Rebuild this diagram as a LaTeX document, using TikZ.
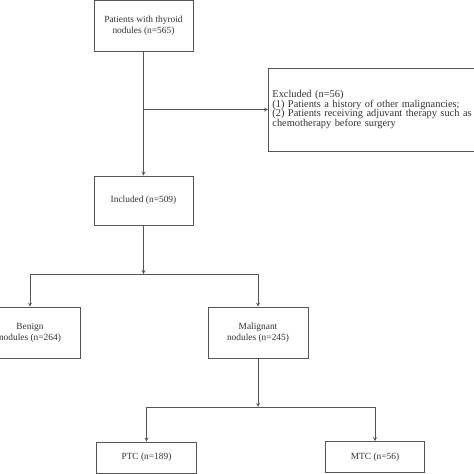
\documentclass[tikz,border=0pt]{standalone}
\usepackage{fontspec}
\setmainfont{Liberation Serif}
\usepackage{tikz}
\usetikzlibrary{arrows,positioning,calc}
\definecolor{linegray}{HTML}{555555}
\definecolor{textgray}{HTML}{333333}

\begin{document}
\begin{tikzpicture}[x=1pt,y=-1pt,>=stealth,
  flowbox/.style={draw=linegray, line width=0.8pt, fill=white, align=center,
    text=textgray, font=\fontsize{9.4}{11}\selectfont, inner sep=2pt},
  flowline/.style={draw=linegray, line width=0.8pt}]
\useasboundingbox (0,0) rectangle (474,474);
\clip (0,0) rectangle (474,474);
% Boxes
\node[flowbox, minimum width=99pt, minimum height=51pt] (patients) at (143.5,26) {Patients with thyroid\\nodules (n=565)};
\node[flowbox, anchor=west, minimum width=222pt, minimum height=83pt, text width=240pt, align=left,
  font=\fontsize{10.4}{9.7}\selectfont, inner sep=4pt] (excluded) at (268,109.5)
  {Excluded (n=56)\\(1) Patients a history of other malignancies;\\(2) Patients receiving adjuvant therapy such as\\chemotherapy before surgery};
\node[flowbox, minimum width=99pt, minimum height=49pt] (included) at (143.5,200.5) {Included (n=509)};
\node[flowbox, minimum width=100pt, minimum height=51pt] (benign) at (30,332.5) {Benign\\nodules (n=264)};
\node[flowbox, minimum width=100pt, minimum height=51pt] (malignant) at (258,332.5) {Malignant\\nodules (n=245)};
\node[flowbox, minimum width=100pt, minimum height=31pt] (ptc) at (146.5,457.5) {PTC (n=189)};
\node[flowbox, minimum width=99pt, minimum height=31pt] (mtc) at (375,457) {MTC (n=56)};
% Split points
\coordinate (split1) at (143.5,274);
\coordinate (split2) at (258,407);
% Connectors
\draw[flowline, ->] (patients) -- (included);
\draw[flowline, ->] (patients.south |- excluded.west) -- (excluded.west);
\draw[flowline, ->] (included) -- (split1);
\draw[flowline] (benign.north |- split1) -- (malignant.north |- split1);
\draw[flowline, ->] (benign.north |- split1) -- (benign.north);
\draw[flowline, ->] (malignant.north |- split1) -- (malignant.north);
\draw[flowline, ->] (malignant) -- (split2);
\draw[flowline] (ptc.north |- split2) -- (mtc.north |- split2);
\draw[flowline, ->] (ptc.north |- split2) -- (ptc.north);
\draw[flowline, ->] (mtc.north |- split2) -- (mtc.north);
\end{tikzpicture}
\end{document}
